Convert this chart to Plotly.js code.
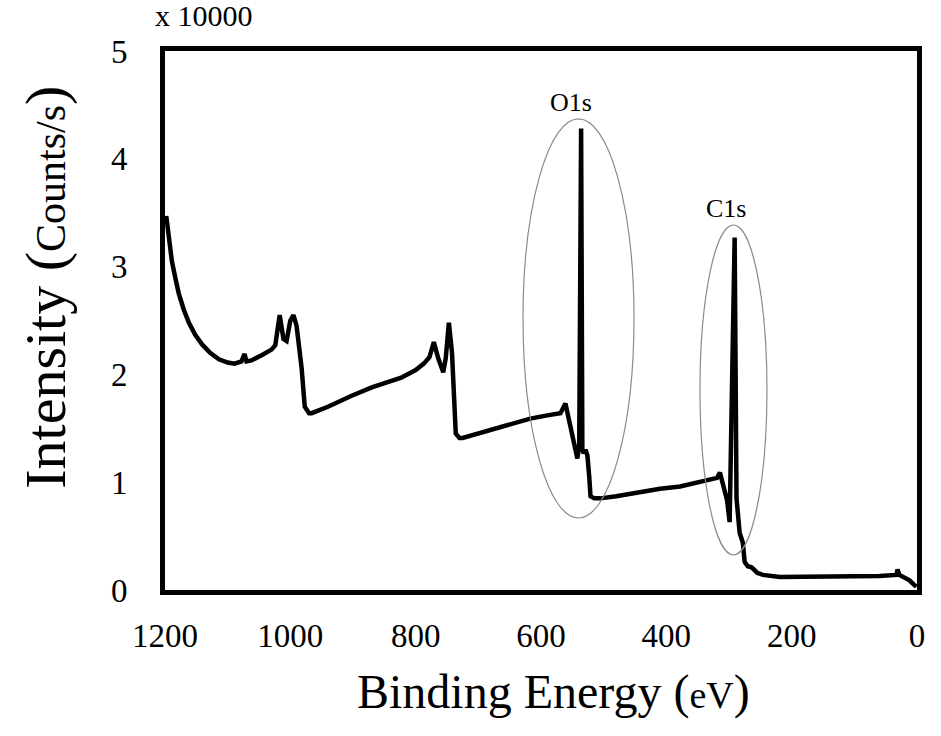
<!DOCTYPE html>
<html>
<head>
<meta charset="utf-8">
<script src="https://cdn.plot.ly/plotly-3.0.1.min.js"></script>
<style>html,body{margin:0;padding:0;background:#fff;}#chart{width:941px;height:736px;}</style>
</head>
<body>
<div id="chart"></div>
<script>
// Binding energy (eV)
var energy = [1198, 1195, 1189, 1183, 1178, 1170, 1162, 1152, 1141, 1128, 1114, 1100, 1089, 1078, 1073, 1070, 1062, 1045, 1030, 1024, 1017, 1011, 1006, 1000, 995, 990, 982, 977, 970, 966, 940, 903, 870, 823, 800, 787, 778, 771, 764, 756, 752, 747, 742, 736, 730, 725, 700, 664, 640, 617, 590, 569, 561, 557, 553, 546, 542, 539, 536, 534, 532, 529, 526, 523, 521, 515, 505, 480, 442, 410, 378, 346, 330, 319, 314.5, 309, 303, 299, 291, 288, 286, 283, 278, 275, 270, 264, 255, 246, 219, 180, 140, 100, 60, 33, 31, 28, 20, 12, 5, 1];
// Intensity (x 10000 counts/s)
var intensity = [3.47, 3.32, 3.05, 2.88, 2.75, 2.60, 2.48, 2.37, 2.28, 2.20, 2.14, 2.11, 2.10, 2.12, 2.19, 2.12, 2.13, 2.18, 2.23, 2.27, 2.55, 2.33, 2.31, 2.50, 2.55, 2.45, 2.06, 1.70, 1.64, 1.64, 1.70, 1.80, 1.88, 1.97, 2.04, 2.10, 2.16, 2.30, 2.15, 2.02, 2.15, 2.48, 2.20, 1.45, 1.41, 1.41, 1.45, 1.51, 1.55, 1.59, 1.62, 1.64, 1.73, 1.62, 1.48, 1.30, 1.22, 1.35, 4.28, 1.30, 1.27, 1.30, 1.25, 1.05, 0.87, 0.85, 0.85, 0.87, 0.91, 0.94, 0.96, 1.00, 1.02, 1.04, 1.09, 0.98, 0.83, 0.63, 3.27, 0.85, 0.71, 0.53, 0.44, 0.26, 0.22, 0.21, 0.16, 0.14, 0.12, 0.12, 0.12, 0.13, 0.13, 0.14, 0.19, 0.14, 0.12, 0.09, 0.05, 0.03];

var peakLabels = ["O1s", "C1s"];
var peakLabelX = [552, 305];
var peakLabelY = [4.52, 3.54];
// ellipse bounds around peaks [x0, x1, y0, y1]
var ellipseO = [628.7, 451.6, 0.668, 4.37];
var ellipseC = [346.3, 239.4, 0.325, 3.386];

var xTicks = [1200, 1000, 800, 600, 400, 200, 0];
var yTicks = [0, 1, 2, 3, 4, 5];

var FONT = "Liberation Serif, Times New Roman, serif";

var trace = {
  x: energy, y: intensity, type: "scatter", mode: "lines",
  line: {color: "#000", width: 4.5}, hoverinfo: "skip", showlegend: false
};

function ell(b) {
  return {type: "circle", xref: "x", yref: "y", x0: b[0], x1: b[1], y0: b[2], y1: b[3],
          line: {color: "#8a8a8a", width: 1.2}, fillcolor: "rgba(0,0,0,0)"};
}

var annotations = [
  {xref: "paper", yref: "paper", x: 0.516, y: -0.19, xanchor: "center", yanchor: "middle", showarrow: false,
   text: "Binding Energy (<span style='font-size:38px'>eV</span>)", font: {family: FONT, size: 48, color: "#000"}},
  {xref: "paper", yref: "paper", x: -0.16, y: 0.562, xanchor: "center", yanchor: "middle", showarrow: false, textangle: -90,
   text: "Intensity (<span style='font-size:42px'>Counts/s</span>)", font: {family: FONT, size: 58, color: "#000"}},
  {xref: "paper", yref: "paper", x: 0.052, y: 1.065, xanchor: "center", yanchor: "middle", showarrow: false,
   text: "x 10000", font: {family: FONT, size: 30, color: "#000"}}
];
for (var i = 0; i < peakLabels.length; i++) {
  annotations.push({xref: "x", yref: "y", x: peakLabelX[i], y: peakLabelY[i], xanchor: "center", yanchor: "middle",
    showarrow: false, text: peakLabels[i], font: {family: FONT, size: 26, color: "#000"}});
}

var layout = {
  width: 941, height: 736,
  margin: {l: 165, r: 24, t: 51, b: 146},
  paper_bgcolor: "#fff", plot_bgcolor: "#fff",
  font: {family: FONT, color: "#000"},
  xaxis: {range: [1200, 0], tickvals: xTicks, ticktext: xTicks.map(String), showgrid: false, zeroline: false,
          showline: true, mirror: true, linecolor: "#000", linewidth: 5, ticks: "",
          tickfont: {family: FONT, size: 33, color: "#000"}, ticklabelstandoff: 12},
  yaxis: {range: [0, 5], tickvals: yTicks, ticktext: yTicks.map(String), showgrid: false, zeroline: false,
          showline: true, mirror: true, linecolor: "#000", linewidth: 5, ticks: "",
          tickfont: {family: FONT, size: 33, color: "#000"}, ticklabelstandoff: 26},
  shapes: [ell(ellipseO), ell(ellipseC)],
  annotations: annotations
};

Plotly.newPlot("chart", [trace], layout, {displayModeBar: false, staticPlot: true});
</script>
</body>
</html>
